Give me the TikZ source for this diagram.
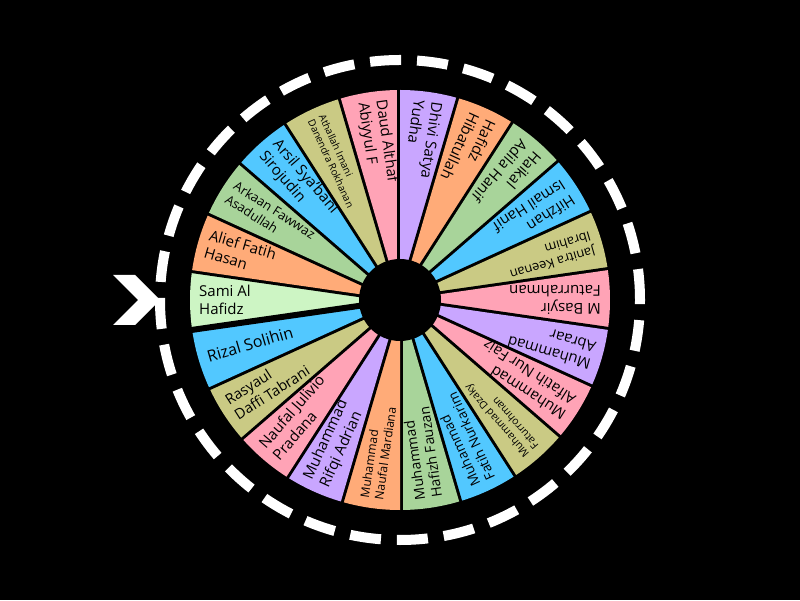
\documentclass[tikz,border=0pt]{standalone}
\usepackage{fontspec}
\setmainfont{Open Sans}
\usetikzlibrary{calc}
\begin{document}
\begin{tikzpicture}[x=1pt,y=1pt,
  lbl/.style={anchor=west,align=left,text=black,inner sep=0pt}]
\definecolor{cpk}{HTML}{FFA3B6}
\definecolor{cpu}{HTML}{C9A6FF}
\definecolor{cor}{HTML}{FFAB78}
\definecolor{cgr}{HTML}{A8D49A}
\definecolor{cbl}{HTML}{52C8FF}
\definecolor{col}{HTML}{CACA84}
\definecolor{csel}{HTML}{CDF5C4}
\fill[black] (0,0) rectangle (800,600);
\useasboundingbox (0,0) rectangle (800,600);
\coordinate (c) at (400,300);
\draw[white,line width=10pt,dash pattern=on 31pt off 16pt] (c) circle[radius=240];
\foreach \i/\col/\fs/\txt in {
0/csel/15/{Sami Al\\Hafidz},
1/cor/15/{Alief Fatih\\Hasan},
2/cgr/13/{Arkaan Fawwaz\\Asadullah},
3/cbl/15/{Arsil Sya'bani\\Sirojudin},
4/col/10/{Athallah Imani\\Danendra Rokhanan},
5/cpk/15/{Daud Althaf\\Abiyyul F},
6/cpu/15/{Dhivi Satya\\Yudha},
7/cor/15/{Hafidz\\Hibatullah},
8/cgr/15/{Haikal\\Adila Hanif},
9/cbl/15/{Hifzhan\\Ismail Hanif},
10/col/13/{Janitra Keenan\\Ibrahim},
11/cpk/15/{M Basyir\\Faturrahman},
12/cpu/15/{Muhammad\\Abraar},
13/cpk/15/{Muhammad\\Alfatih Nur Faiz},
14/col/10.5/{Muhammad Dzaky\\Faturrohman},
15/cbl/13.5/{Muhammad\\Fatih Nurkarim},
16/cgr/14/{Muhammad\\Hafizh Fauzan},
17/cor/12/{Muhammad\\Naufal Mardiana},
18/cpu/15/{Muhammad\\Rifqi Adrian},
19/cpk/15/{Naufal Julivio\\Pradana},
20/col/14.5/{Rasyaul\\Daffi Tabrani},
21/cbl/16/{Rizal Solihin}}{
  \pgfmathsetmacro\th{180-\i*360/22}
  \pgfmathsetmacro\a{\th-180/22}
  \pgfmathsetmacro\b{\th+180/22}
  \pgfmathsetmacro\bs{\fs*1.2}
  \fill[\col] (c) -- ++(\a:210) arc[start angle=\a,end angle=\b,radius=210] -- cycle;
  \draw[black,line width=6pt] (c) -- ++(\a:212);
  \node[lbl,font=\fontsize{\fs pt}{\bs pt}\selectfont,rotate=\th+180] (n\i) at ($(c)+(\th:201)$) {\txt};
}
\fill[black] (c) circle[radius=41];
\fill[white] (113,325) -- (138,300) -- (113,275) -- (135,275) -- (160,300) -- (135,325) -- cycle;
\end{tikzpicture}
\end{document}
